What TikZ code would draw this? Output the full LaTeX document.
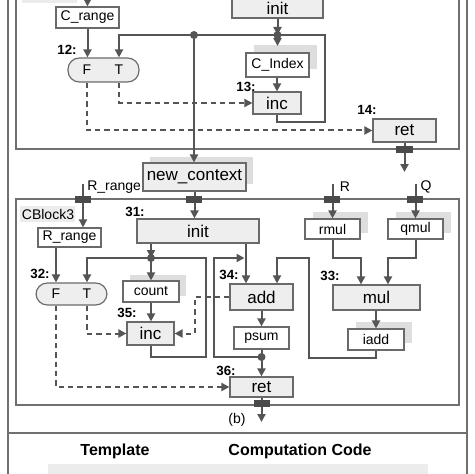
\documentclass[tikz,border=0pt]{standalone}
\usepackage{fontspec}
\setmainfont{Liberation Sans}
\usetikzlibrary{arrows.meta}
\definecolor{linec}{HTML}{555555}
\definecolor{boxc}{HTML}{6A6A6A}
\definecolor{boxfill}{HTML}{EEEEEE}
\definecolor{framec}{HTML}{707070}
\definecolor{portc}{HTML}{4A4A4A}
\definecolor{shadc}{HTML}{DEDEDE}
\definecolor{tabc}{HTML}{ECECEC}
\tikzset{
  conn/.style={draw=linec, line width=1.5pt},
  arr/.style={conn, -{Triangle[length=6pt,width=6pt]}},
  darr/.style={arr, dash pattern=on 4pt off 3pt},
  frame/.style={draw=framec, line width=1.1pt},
  smallfont/.style={font=\fontsize{10.5}{12}\selectfont},
  bigfont/.style={font=\fontsize{12.75}{14}\selectfont},
  sz/.style 2 args={minimum width=#1*0.75pt, minimum height=#2*0.75pt},
  gbox/.style={draw=boxc, fill=boxfill, line width=0.9pt, inner sep=0pt, bigfont},
  wbox/.style={draw=boxc, fill=white, line width=0.9pt, inner sep=0pt, smallfont},
  pill/.style={draw=boxc, fill=boxfill, line width=0.9pt, inner sep=0pt, rounded corners=8.5pt},
  shad/.style={fill=shadc, draw=none},
  lbl/.style={inner sep=0pt, font=\bfseries\fontsize{10}{12}\selectfont},
  txt/.style={inner sep=0pt, smallfont},
  dot/.style={fill=linec, circle, inner sep=0pt, minimum size=6pt},
  port/.style={fill=portc},
}
\begin{document}
\begin{tikzpicture}[x=0.75pt,y=-0.75pt]
\useasboundingbox (0,0) rectangle (474,474);
\clip (0,0) rectangle (474,474);
% frames
\draw[frame] (8,-10) rectangle (467,490);
\draw[frame] (8,433) -- (467,433);
\draw[frame] (16,-10) rectangle (459,149);
\draw[frame] (16,199) rectangle (459,405);
\fill[tabc] (22,-2) rectangle (77,3);
\fill[tabc] (48,464) rectangle (428,480);

% ---------- top block ----------
\node[gbox, sz={91}{19}] (initA) at (277.5,8.5) {init};
\node[wbox, sz={63}{21}] (crange) at (87.5,17.5) {C\_range};
\coordinate (topin) at (87.5,-5);
\node[pill, sz={71}{24}] (p12) at (103.5,70) {};
\node[txt] (p12F) at (87,70) {F};
\node[txt] (p12T) at (119,70) {T};
\node[lbl] (l12) at (67,50) {12:};
\fill[shad] (254,45) rectangle (317,69);
\node[wbox, sz={63}{24}] (cidx) at (277.5,65) {C\_Index};
\node[gbox, sz={48}{22}] (inc13) at (277,103) {inc};
\node[lbl] (l13) at (246,87) {13:};
\node[gbox, sz={63}{23}] (ret14) at (404.5,130.5) {ret};
\node[lbl] (l14) at (367,110) {14:};
\coordinate (J1) at (194,35);
\coordinate (J2) at (277.5,35);
\coordinate (c1) at (325,122);
\coordinate (c2) at (325,35);
\coordinate (cin) at (277.5,46);
\coordinate (out14) at (404.5,172);

\draw[arr] (topin) -- (crange.north);
\draw[arr] (crange.south) -- (p12.north -| crange.south);
\draw[arr] (initA.south -| J2) -- (J2);
\draw[arr] (J2) -- (cin);
\draw[arr] (cidx.south -| inc13.north) -- (inc13.north);
\draw[arr] (inc13.south) |- (c1) -- (c2) -| (p12.north -| p12T);
\draw[darr] (p12.south -| p12T) |- (inc13.west);
\draw[darr] (p12.south -| p12F) |- (ret14.west);
\draw[arr] (ret14.south) -- (out14);
\fill[port] (396,146) rectangle (413,153);

% ---------- new_context ----------
\fill[shad] (150,157) rectangle (253,184);
\node[gbox, sz={103}{28}] (newctx) at (194.5,177) {new\_context};
\draw[arr] (J1) -- (newctx.north -| J1);
\node[dot] (d1) at (J1) {};
\node[dot] (d2) at (J2) {};

% ---------- CBlock3 ----------
\fill[tabc] (20,206) rectangle (75,222);
\node[txt] (cb3) at (48,214) {CBlock3};
\node[wbox, sz={63}{19}] (rrange) at (69.5,237.5) {R\_range};
\node[gbox, sz={122}{24}] (init31) at (198,231) {init};
\node[lbl] (l31) at (135,212) {31:};
\node[pill, sz={71}{22}] (p32) at (71.5,294) {};
\node[txt] (p32F) at (56,294) {F};
\node[txt] (p32T) at (87,294) {T};
\node[lbl] (l32) at (40,274) {32:};
\fill[shad] (130,275) rectangle (186,296);
\node[wbox, sz={56}{21}] (count) at (151,291.5) {count};
\node[gbox, sz={47}{23}] (inc35) at (150.5,333.5) {inc};
\node[lbl] (l35) at (127,313) {35:};
\node[gbox, sz={63}{26}] (add34) at (261.5,297) {add};
\node[lbl] (l34) at (229,275) {34:};
\node[wbox, sz={55}{22}] (psum) at (261.5,338) {psum};
\node[gbox, sz={63}{20}] (ret36) at (261.5,387) {ret};
\node[lbl] (l36) at (226,371) {36:};
\fill[shad] (313,212) rectangle (368,233);
\node[wbox, sz={55}{20}] (rmul) at (332.5,229) {rmul};
\fill[shad] (396,212) rectangle (451,233);
\node[wbox, sz={55}{20}] (qmul) at (415.5,229) {qmul};
\node[gbox, sz={87}{25}] (mul33) at (376.5,297.5) {mul};
\node[lbl] (l33) at (330,276) {33:};
\fill[shad] (356,322) rectangle (412,343);
\node[wbox, sz={56}{21}] (iadd) at (376,339.5) {iadd};

\node[txt, anchor=west] (lrr) at (87,187) {R\_range};
\node[txt] (lR) at (345,187) {R};
\node[txt] (lQ) at (426,187) {Q};

\coordinate (rrin) at (83,184);
\coordinate (Rin) at (332.5,184);
\coordinate (Qin) at (415.5,184);
\coordinate (J3) at (151,258);
\coordinate (J4) at (261.5,357);
\coordinate (e1) at (206,357);
\coordinate (e2) at (206,258);
\coordinate (a1) at (246,258);
\coordinate (a2) at (277,258);
\coordinate (s1) at (214,357);
\coordinate (s2) at (214,258);
\coordinate (s3) at (244.5,258);
\coordinate (q1) at (309,358);
\coordinate (q2) at (309,258);
\coordinate (m1) at (361,258);
\coordinate (m2) at (388,258);
\coordinate (dd) at (195,297);
\coordinate (out36) at (261.5,422);

\draw[arr] (rrin) -- (rrange.north -| rrin);
\draw[arr] (newctx.south) -- (newctx.south |- init31.north);
\draw[arr] (Rin) -- (rmul.north);
\draw[arr] (Qin) -- (qmul.north);
\draw[arr] (rrange.south -| p32F) -- (p32.north -| p32F);
\draw[arr] (init31.south -| J3) -- (J3);
\draw[arr] (J3) -- (count.north -| J3);
\draw[arr] (count.south -| J3) -- (inc35.north -| J3);
\draw[arr] (inc35.south -| J3) |- (e1) -- (e2) -| (p32.north -| p32T);
\draw[darr] (p32.south -| p32T) |- (inc35.west);
\draw[darr] (p32.south -| p32F) |- (ret36.west);
\draw[darr] (add34.west) -| (dd |- inc35.east) -- (inc35.east);
\draw[arr] (init31.south -| a1) -- (add34.north -| a1);
\draw[arr] (add34.south) -- (psum.north);
\draw[conn] (psum.south) -- (J4);
\draw[arr] (J4) -- (ret36.north);
\draw[arr] (J4) -- (s1) -- (s2) -- (s3);
\draw[arr] (iadd.south) |- (q1) -- (q2) -| (add34.north -| a2);
\draw[arr] (rmul.south) |- (m1) -- (mul33.north -| m1);
\draw[arr] (qmul.south) |- (m2) -- (mul33.north -| m2);
\draw[arr] (mul33.south -| iadd.north) -- (iadd.north);
\draw[arr] (ret36.south) -- (out36);
\node[dot] (d3) at (J3) {};
\node[dot] (d4) at (J4) {};

\fill[port] (75,196) rectangle (91,203);
\fill[port] (186,196) rectangle (202,203);
\fill[port] (324,196) rectangle (340,203);
\fill[port] (407,196) rectangle (423,203);
\fill[port] (254,400) rectangle (270,407);

\node[txt] (lb) at (237,420) {(b)};
\node[inner sep=0pt, font=\bfseries\fontsize{12}{14}\selectfont] (ht) at (115,451) {Template};
\node[inner sep=0pt, font=\bfseries\fontsize{12}{14}\selectfont] (hc) at (300,451) {Computation Code};
\end{tikzpicture}
\end{document}
